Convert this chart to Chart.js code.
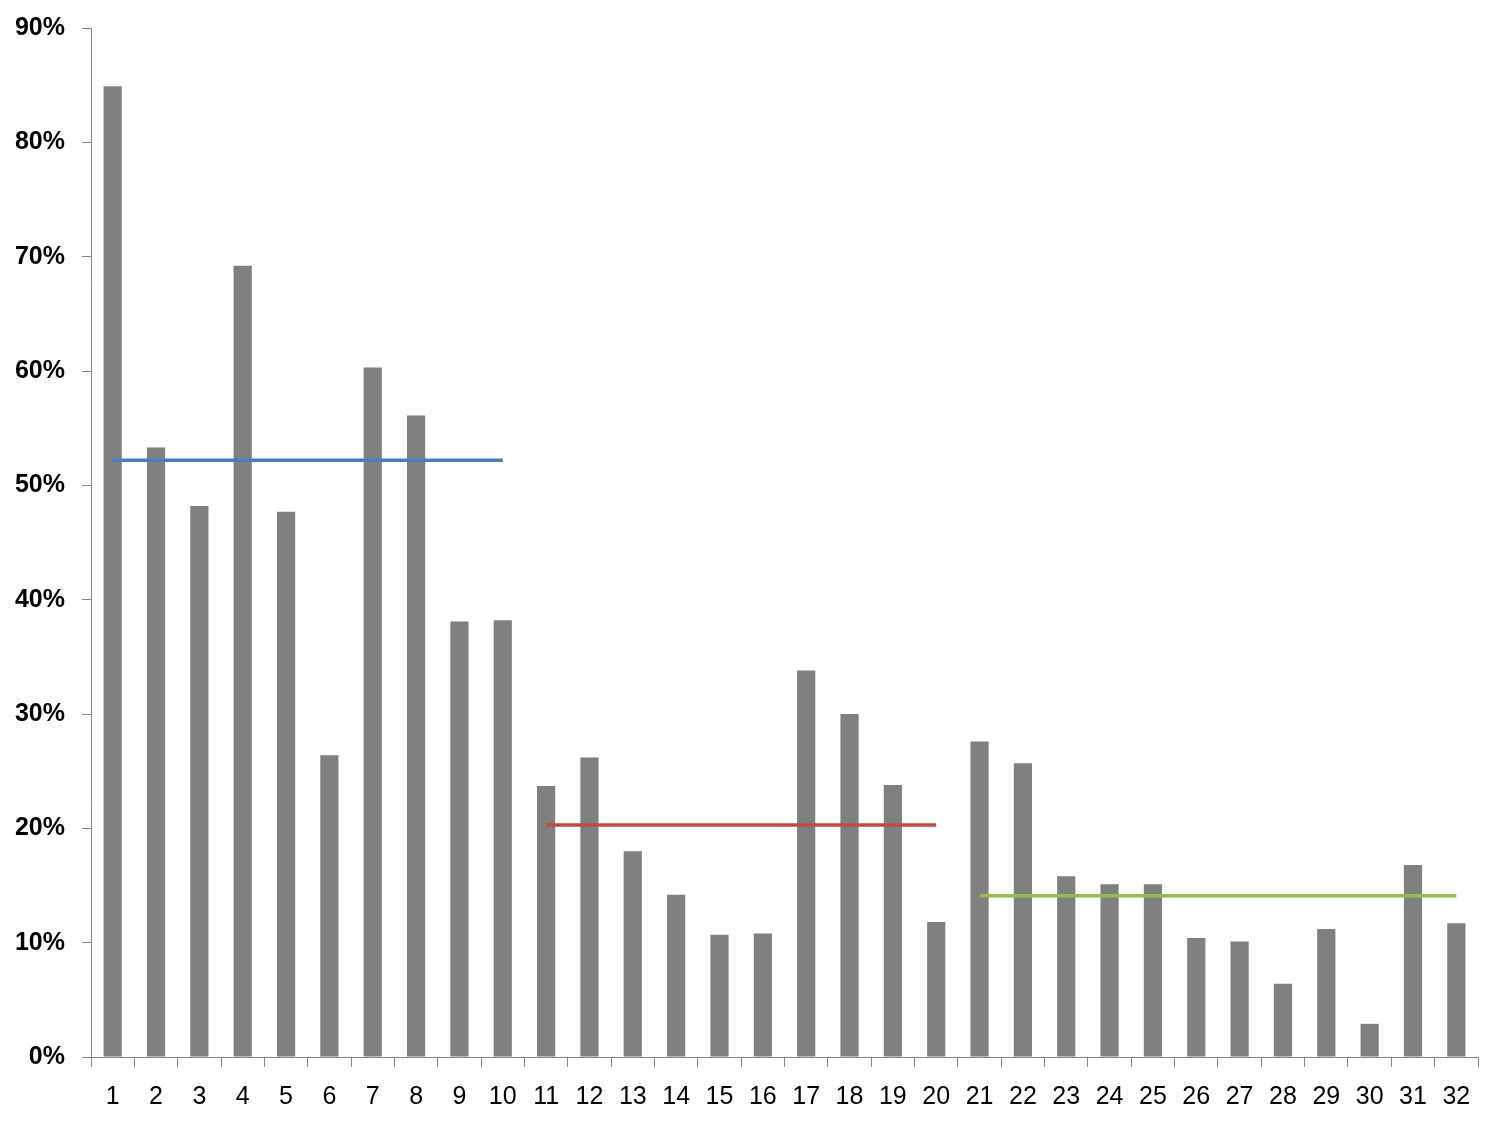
<!DOCTYPE html>
<html lang="en">
<head>
<meta charset="UTF-8">
<title>Bar chart with group averages</title>
<script src="https://cdn.jsdelivr.net/npm/chart.js"></script>
<style>
  html, body { margin: 0; padding: 0; background: #fff; }
  canvas { display: block; }
</style>
</head>
<body>
<canvas id="chart" width="1500" height="1125"></canvas>
<script>
// categories 1..32
var labels = ['1','2','3','4','5','6','7','8','9','10','11','12','13','14','15','16',
              '17','18','19','20','21','22','23','24','25','26','27','28','29','30','31','32'];

// bar values (%)
var values = [84.9, 53.3, 48.2, 69.2, 47.7, 26.4, 60.3, 56.1, 38.1, 38.2,
              23.7, 26.2, 18.0, 14.2, 10.7, 10.8, 33.8, 30.0, 23.8, 11.8,
              27.6, 25.7, 15.8, 15.1, 15.1, 10.4, 10.1, 6.4, 11.2, 2.9, 16.8, 11.7];

// group averages: 1-10, 11-20, 21-32
var avgGroup1 = 52.2;
var avgGroup2 = 20.3;
var avgGroup3 = 14.1;

var yTicks = [0, 10, 20, 30, 40, 50, 60, 70, 80, 90];

function groupLine(avg, from, to) {
  return labels.map(function(l, i) { return (i >= from && i <= to) ? avg : null; });
}

var axisColor = '#868686';

new Chart(document.getElementById('chart').getContext('2d'), {
  type: 'bar',
  data: {
    labels: labels,
    datasets: [
      {
        type: 'line',
        data: groupLine(avgGroup1, 0, 9),
        borderColor: '#4a7ebb',
        borderWidth: 3.5,
        pointRadius: 0,
        fill: false
      },
      {
        type: 'line',
        data: groupLine(avgGroup2, 10, 19),
        borderColor: '#be4b48',
        borderWidth: 3.5,
        pointRadius: 0,
        fill: false
      },
      {
        type: 'line',
        data: groupLine(avgGroup3, 20, 31),
        borderColor: '#98b954',
        borderWidth: 3.5,
        pointRadius: 0,
        fill: false
      },
      {
        data: values,
        backgroundColor: '#808080',
        categoryPercentage: 1.0,
        barPercentage: 0.42
      }
    ]
  },
  options: {
    responsive: false,
    animation: false,
    layout: { padding: { left: 0, right: 22, top: 28, bottom: 0 } },
    plugins: {
      legend: { display: false },
      tooltip: { enabled: false }
    },
    scales: {
      x: {
        offset: true,
        border: { color: axisColor, width: 1 },
        grid: {
          offset: true,
          drawOnChartArea: false,
          drawTicks: true,
          tickLength: 10,
          color: axisColor
        },
        ticks: {
          color: '#000',
          padding: 15,
          maxRotation: 0,
          autoSkip: false,
          font: { family: 'Liberation Sans', size: 25 }
        },
        afterFit: function(axis) { axis.height = 68; }
      },
      y: {
        min: 0,
        max: 90,
        border: { color: axisColor, width: 1 },
        grid: {
          drawOnChartArea: false,
          drawTicks: true,
          tickLength: 9,
          color: axisColor
        },
        afterBuildTicks: function(axis) {
          axis.ticks = yTicks.map(function(v) { return { value: v }; });
        },
        ticks: {
          color: '#000',
          padding: 17,
          callback: function(v) { return v + '%'; },
          font: { family: 'Liberation Sans', size: 25, weight: 'bold' }
        },
        afterFit: function(axis) {
          axis.width = 91;
          axis.paddingTop = 0;
          axis.paddingBottom = 0;
        }
      }
    }
  }
});
</script>
</body>
</html>
